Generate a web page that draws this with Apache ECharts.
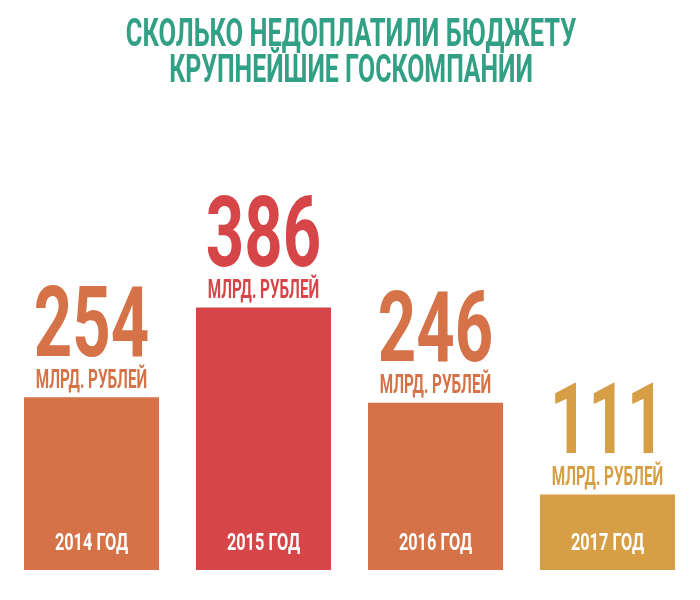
<!DOCTYPE html>
<html>
<head>
<meta charset="utf-8">
<script src="https://cdn.jsdelivr.net/npm/echarts@6/dist/echarts.min.js"></script>
<style>
html,body{margin:0;padding:0;background:#fff;}
#main{width:700px;height:600px;}
</style>
</head>
<body>
<div id="main"></div>
<script>
const titleLines = ['СКОЛЬКО НЕДОПЛАТИЛИ БЮДЖЕТУ', 'КРУПНЕЙШИЕ ГОСКОМПАНИИ'];
const categories = ['2014 ГОД', '2015 ГОД', '2016 ГОД', '2017 ГОД'];
const values = [254, 386, 246, 111];
const unitLabel = 'МЛРД. РУБЛЕЙ';
const barColors = ['#d57248', '#d64548', '#d57248', '#d69e45'];

const chart = echarts.init(document.getElementById('main'));
const FONT = 'Roboto, "Liberation Sans", sans-serif';
const titleScale = [0.67, 0.655];

chart.setOption({
  backgroundColor: '#ffffff',
  animation: false,
  graphic: titleLines.map((t, i) => ({
    type: 'text',
    x: 351,
    y: i === 0 ? 36 : 72,
    scaleX: titleScale[i],
    style: {
      text: t,
      fill: '#31a085',
      fontFamily: FONT,
      fontWeight: 'bold',
      fontSize: 38,
      textAlign: 'center',
      textVerticalAlign: 'middle'
    }
  })),
  grid: { left: 5.5, right: 6.5, top: 298, bottom: 30 },
  xAxis: {
    type: 'category',
    data: categories,
    axisLine: { show: false },
    axisTick: { show: false },
    axisLabel: { show: false }
  },
  yAxis: {
    type: 'value',
    min: 0,
    max: 400,
    show: false,
    splitLine: { show: false }
  },
  series: [{
    type: 'custom',
    data: values.map((v, i) => [i, v]),
    renderItem: function (params, api) {
      const idx = params.dataIndex;
      const v = api.value(1);
      const top = api.coord([idx, v]);
      const base = api.coord([idx, 0]);
      const w = api.size([1, 0])[0] * 0.785;
      const color = barColors[idx];
      return {
        type: 'group',
        children: [
          {
            type: 'rect',
            shape: { x: top[0] - w / 2, y: top[1], width: w, height: base[1] - top[1] },
            style: { fill: color }
          },
          {
            type: 'text',
            x: top[0], y: top[1] - 16, scaleX: 0.61,
            style: { text: unitLabel, fill: color, fontFamily: FONT, fontWeight: 'bold', fontSize: 25, textAlign: 'center', textVerticalAlign: 'middle' }
          },
          {
            type: 'text',
            x: top[0], y: top[1] - 66, scaleX: 0.685,
            style: { text: String(v), fill: color, fontFamily: FONT, fontWeight: 'bold', fontSize: 98, textAlign: 'center', textVerticalAlign: 'middle' }
          },
          {
            type: 'text',
            x: top[0], y: base[1] - 26, scaleX: 0.68,
            style: { text: categories[idx], fill: '#ffffff', fontFamily: FONT, fontWeight: 'bold', fontSize: 24, textAlign: 'center', textVerticalAlign: 'middle' }
          }
        ]
      };
    }
  }]
});
</script>
</body>
</html>
